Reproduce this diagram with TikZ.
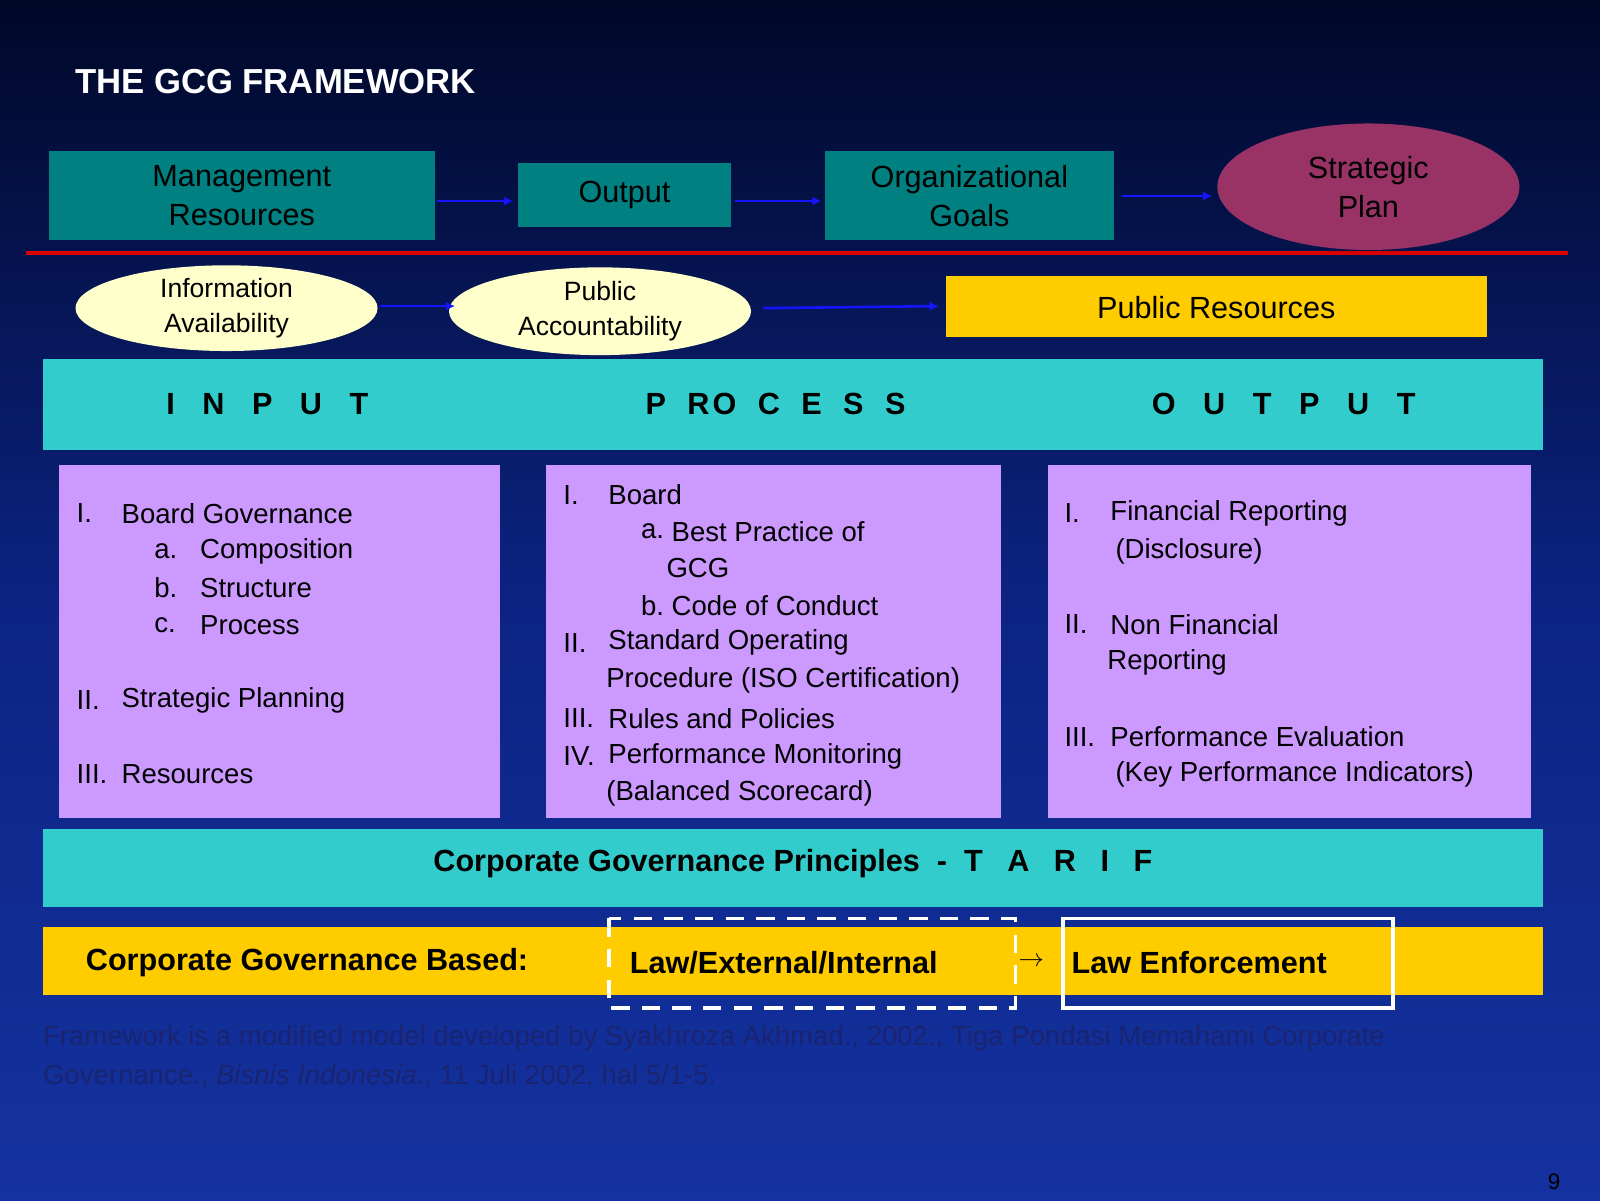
\documentclass[tikz,border=0pt]{standalone}
\usepackage{fontspec}
\setmainfont{Liberation Sans}
\usetikzlibrary{shapes.geometric,arrows.meta}
\definecolor{teal1}{HTML}{008080}
\definecolor{plum}{HTML}{993366}
\definecolor{cyanb}{HTML}{33CCCC}
\definecolor{lilac}{HTML}{CC99FF}
\definecolor{gold}{HTML}{FFCC00}
\definecolor{cream}{HTML}{FFFFCC}
\definecolor{navytxt}{HTML}{1A2470}
\begin{document}
\begin{tikzpicture}[x=1pt,y=-1pt,
  tb/.style={fill=teal1,draw=none,align=center,font=\fontsize{30}{38}\selectfont,text=black,inner sep=0},
  el/.style={ellipse,fill=cream,draw=none,align=center,font=\fontsize{26}{34}\selectfont,inner sep=0},
  arr/.style={draw={rgb,255:red,20;green,20;blue,255},line width=2.5pt,-{Latex[length=9pt,width=9pt]}},
  band/.style={fill=cyanb,draw=none},
  pb/.style={fill=lilac,draw=none},
  tl/.style={anchor=west,inner sep=0,font=\fontsize{27}{32}\selectfont}]
\useasboundingbox (0,0) rectangle (1568,1176);
\shade[top color={rgb,255:red,0;green,8;blue,40},bottom color={rgb,255:red,20;green,50;blue,160},middle color={rgb,255:red,12;green,35;blue,130}] (0,0) rectangle (1568,1176);
\node[anchor=west,text=white,font=\bfseries\fontsize{34}{40}\selectfont] (title) at (70,80) {THE GCG FRAMEWORK};
% top row
\fill[teal1] (48,148) rectangle (426,235);
\node[tb] (mr) at (237,192) {Management\\ Resources};
\fill[teal1] (508,160) rectangle (716,222);
\node[tb] (out) at (612,191) {Output};
\fill[teal1] (808,148) rectangle (1092,235);
\node[tb] (og) at (950,192) {Organizational\\ Goals};
\node[ellipse,fill=plum,minimum width=296,minimum height=124,align=center,font=\fontsize{30}{38}\selectfont,inner sep=0] (sp) at (1341,183) {Strategic\\ Plan};
\coordinate (a1) at (428,197); \coordinate (a2) at (503,197);
\draw[arr] (a1) -- (a2);
\coordinate (a3) at (720,197); \coordinate (a4) at (805,197);
\draw[arr] (a3) -- (a4);
\coordinate (a5) at (1100,192); \coordinate (a6) at (1188,192);
\draw[arr] (a5) -- (a6);
\draw[red!85!black,line width=4pt] (25,248) -- (1537,248);
% second row
\node[el,minimum width=296,minimum height=84] (ia) at (222,302) {Information\\ Availability};
\node[el,minimum width=296,minimum height=86] (pa) at (588,305) {Public\\ Accountability};
\fill[gold] (927,270) rectangle (1457,330);
\node[font=\fontsize{30}{36}\selectfont] (pr) at (1192,301) {Public Resources};
\coordinate (b1) at (372,300); \coordinate (b2) at (446,300);
\draw[arr] (b1) -- (b2);
\coordinate (b3) at (748,302); \coordinate (b4) at (920,300);
\draw[arr] (b3) -- (b4);
% IPO band
\fill[band] (42,352) rectangle (1512,441);
\node[font=\bfseries\fontsize{30}{36}\selectfont] (inp) at (262,396) {I\hspace{0.9em}N\hspace{0.9em}P\hspace{0.9em}U\hspace{0.9em}T};
\node[font=\bfseries\fontsize{30}{36}\selectfont] (proc) at (760,396) {P\hspace{0.7em}R\hspace{0.1em}O\hspace{0.7em}C\hspace{0.7em}E\hspace{0.7em}S\hspace{0.7em}S};
\node[font=\bfseries\fontsize{30}{36}\selectfont] (outp) at (1258,396) {O\hspace{0.9em}U\hspace{0.9em}T\hspace{0.9em}P\hspace{0.9em}U\hspace{0.9em}T};
% purple boxes
\fill[pb] (58,456) rectangle (490,802);
\fill[pb] (535,456) rectangle (981,802);
\fill[pb] (1027,456) rectangle (1500,802);
\node[tl] at (75,503) {I.}; \node[tl] at (119,503) {Board Governance};
\node[tl] at (151,540) {a.}; \node[tl] at (196,540) {Composition};
\node[tl] at (151,576) {b.}; \node[tl] at (196,576) {Structure};
\node[tl] at (151,613) {c.}; \node[tl] at (196,613) {Process};
\node[tl] at (75,686) {II.}; \node[tl] at (119,686) {Strategic Planning};
\node[tl] at (75,759) {III.}; \node[tl] at (119,759) {Resources};
\node[tl] at (552,485) {I.}; \node[tl] at (596,485) {Board};
\node[tl] at (628,521) {a.}; \node[tl] at (658,521) {Best Practice of};
\node[tl] at (653,557) {GCG};
\node[tl] at (628,594) {b.}; \node[tl] at (658,594) {Code of Conduct};
\node[tl] at (552,630) {II.}; \node[tl] at (596,630) {Standard Operating};
\node[tl] at (594,667) {Procedure (ISO Certification)};
\node[tl] at (552,704) {III.}; \node[tl] at (596,704) {Rules and Policies};
\node[tl] at (552,741) {IV.}; \node[tl] at (596,741) {Performance Monitoring};
\node[tl] at (594,777) {(Balanced Scorecard)};
\node[tl] at (1043,503) {I.}; \node[tl] at (1088,503) {Financial Reporting};
\node[tl] at (1093,540) {(Disclosure)};
\node[tl] at (1043,612) {II.}; \node[tl] at (1088,612) {Non Financial};
\node[tl] at (1085,649) {Reporting};
\node[tl] at (1043,722) {III.}; \node[tl] at (1088,722) {Performance Evaluation};
\node[tl] at (1093,759) {(Key Performance Indicators)};
% principles
\fill[band] (42,812) rectangle (1512,889);
\node[font=\bfseries\fontsize{30}{36}\selectfont] (cgp) at (777,846) {Corporate Governance Principles\ \ -\ \ T\hspace{0.8em}A\hspace{0.8em}R\hspace{0.8em}I\hspace{0.8em}F};
% based
\fill[gold] (42,908) rectangle (1512,975);
\draw[white,line width=3.5pt,dash pattern=on 18pt off 12pt] (597,900) rectangle (995,988);
\draw[white,line width=3.5pt] (1042,900) rectangle (1365,988);
\node[tl,font=\bfseries\fontsize{30}{36}\selectfont] (cgb) at (84,943) {Corporate Governance Based:};
\node[tl,font=\bfseries\fontsize{30}{36}\selectfont] (lei) at (617,943) {Law/External/Internal};
\node[tl,font=\fontsize{30}{36}\selectfont] (ar) at (998,943) {$\rightarrow$};
\node[tl,font=\bfseries\fontsize{30}{36}\selectfont] (le) at (1050,943) {Law Enforcement};
% footnote
\node[tl,text=navytxt,font=\fontsize{27}{32}\selectfont] (fn1) at (42,1018) {Framework is a modified model developed by Syakhroza Akhmad., 2002., Tiga Pondasi Memahami Corporate};
\node[tl,text=navytxt,font=\fontsize{27}{32}\selectfont] (fn2) at (42,1055) {Governance., \textit{Bisnis Indonesia}., 11 Juli 2002, hal 5/1-5.};
\node[font=\fontsize{22}{26}\selectfont,text=black] (pg) at (1523,1158) {9};
\end{tikzpicture}
\end{document}
